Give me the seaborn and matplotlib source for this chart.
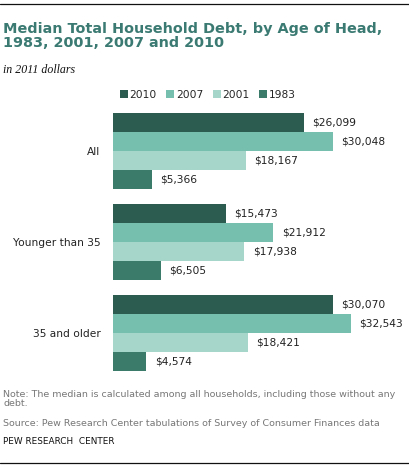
import matplotlib
matplotlib.use("Agg")
import matplotlib.pyplot as plt
import seaborn as sns
import pandas as pd

categories = ["All", "Younger than 35", "35 and older"]
years = ["2010", "2007", "2001", "1983"]
debt_2010 = [26099, 15473, 30070]
debt_2007 = [30048, 21912, 32543]
debt_2001 = [18167, 17938, 18421]
debt_1983 = [5366, 6505, 4574]
colors = ["#2c5b4f", "#76bfae", "#a6d5c9", "#3a7b69"]

rows = []
for yr, vals in zip(years, [debt_2010, debt_2007, debt_2001, debt_1983]):
    for c, v in zip(categories, vals):
        rows.append({"group": c, "year": yr, "debt": v})
df = pd.DataFrame(rows)

sns.set_style("white")
plt.rcParams['font.family'] = ['DejaVu Sans']

W, H = 409, 467
fig = plt.figure(figsize=(W / 100, H / 100), dpi=100)

# axes: x from 113 to 380 px, y from 106 to 378 px
ax = fig.add_axes([113 / W, 1 - 378 / H, (380 - 113) / W, (378 - 106) / H])
sns.barplot(data=df, y="group", x="debt", hue="year", hue_order=years,
            order=categories, palette=colors, width=0.835, orient="h",
            saturation=1, ax=ax, legend=False, linewidth=0, errorbar=None)
ax.set_xlim(0, 36475)
ax.set_ylim(2.5, -0.5)
ax.set_xlabel("")
ax.set_ylabel("")
ax.set_xticks([])
for s in ax.spines.values():
    s.set_visible(False)
ax.tick_params(axis="y", length=0, pad=9, labelsize=7.7, labelcolor="#222222")

for cont in ax.containers:
    ax.bar_label(cont, labels=[f"${v:,.0f}" for v in cont.datavalues],
                 padding=6, fontsize=7.7, color="#222222")

# Legend
from matplotlib.patches import Patch
handles = [Patch(facecolor=c, edgecolor="none") for c in colors]
fig.legend(handles, years, loc="center", bbox_to_anchor=(208 / W, 1 - 95 / H),
           ncol=4, frameon=False, fontsize=7.7, handlelength=0.75,
           handleheight=0.75, handletextpad=0.15, columnspacing=0.9,
           borderaxespad=0)

# Title, subtitle
fig.text(3 / W, 1 - 36 / H, "Median Total Household Debt, by Age of Head,\n1983, 2001, 2007 and 2010",
         fontsize=10.4, fontweight="bold", color="#3a7a72", va="center", ha="left",
         linespacing=1.0)
fig.text(3 / W, 1 - 70 / H, "in 2011 dollars", fontsize=8.6, style="italic",
         family="Liberation Serif", color="#111111", va="center", ha="left")

# Notes
fig.text(3 / W, 1 - 399 / H,
         "Note: The median is calculated among all households, including those without any\ndebt.",
         fontsize=6.8, color="#777777", va="center", ha="left", linespacing=1.0)
fig.text(3 / W, 1 - 423 / H,
         "Source: Pew Research Center tabulations of Survey of Consumer Finances data",
         fontsize=6.8, color="#777777", va="center", ha="left")
fig.text(3 / W, 1 - 442 / H, "PEW RESEARCH  CENTER", fontsize=6.4, color="#111111",
         va="center", ha="left")

# rules
fig.add_artist(plt.Line2D([0, 1], [1 - 3.5 / H, 1 - 3.5 / H], color="#111111", lw=0.9))
fig.add_artist(plt.Line2D([0, 1], [1 - 462.5 / H, 1 - 462.5 / H], color="#111111", lw=0.9))

fig.savefig("out.png", dpi=100)
